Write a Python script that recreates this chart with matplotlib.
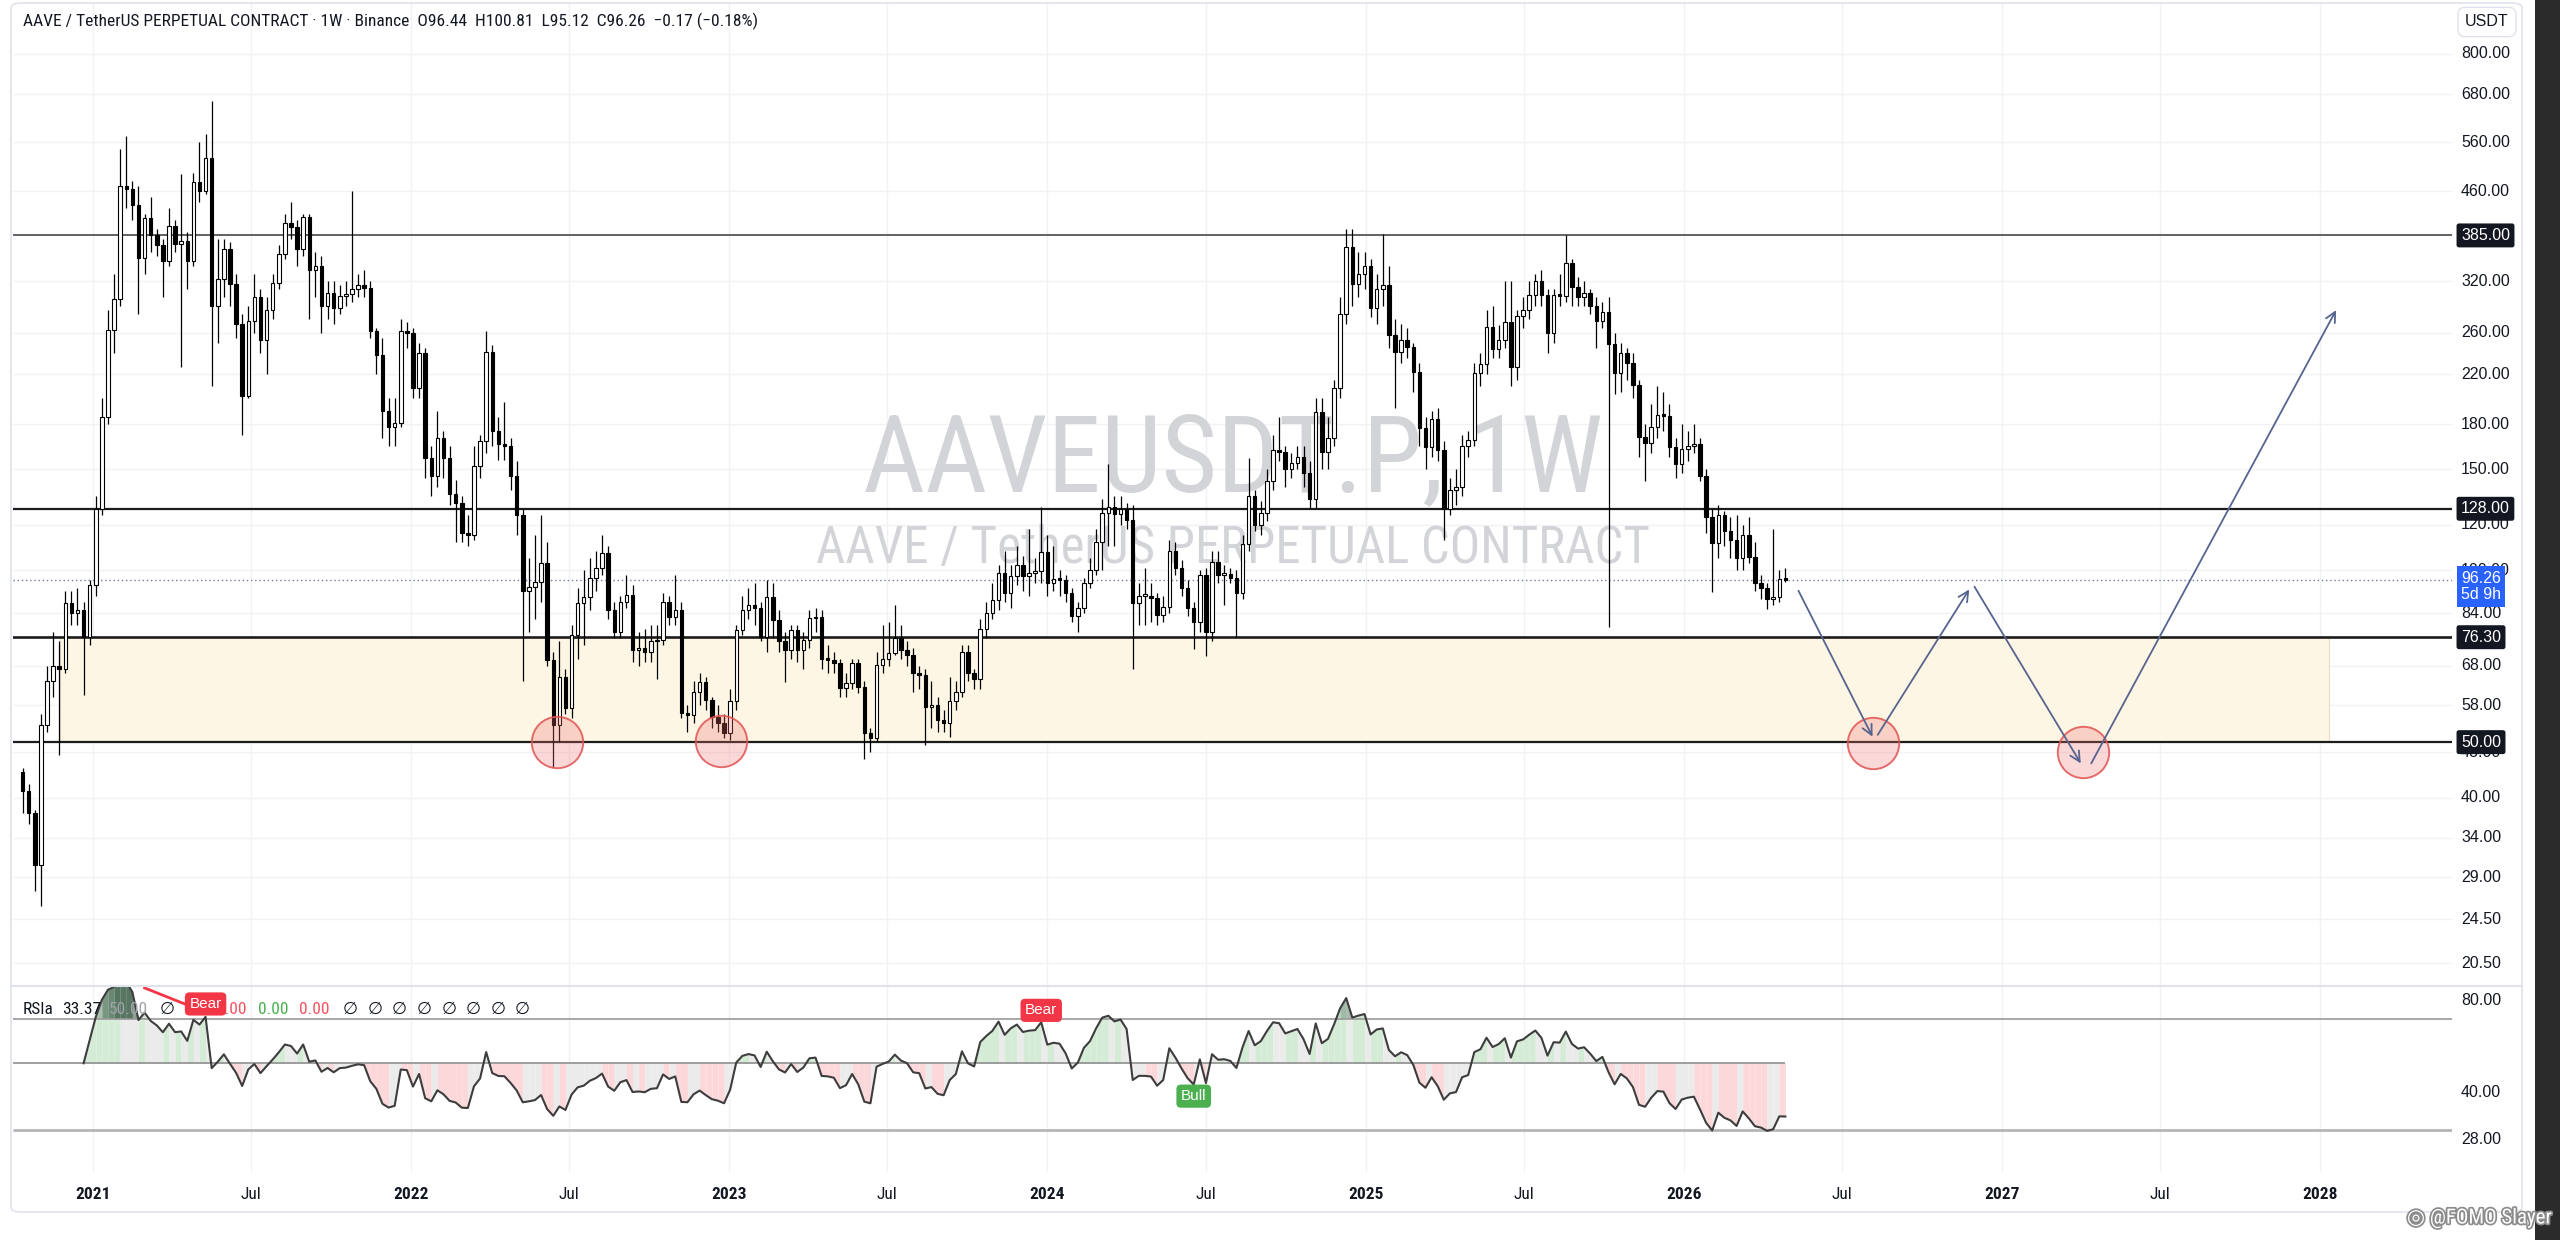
# -*- coding: utf-8 -*-
import numpy as np
import pandas as pd
import matplotlib
matplotlib.use("Agg")
import matplotlib.pyplot as plt
import matplotlib.dates as mdates
import matplotlib.patheffects as pe
from matplotlib import font_manager
from matplotlib.patches import FancyBboxPatch, Rectangle
from matplotlib.lines import Line2D
from matplotlib.transforms import blended_transform_factory, offset_copy

# === DATA (weekly candles) ===
first_week = "2020-10-12"
first_open = 44.4

closes = [
    41, 37.6, 30.5, 53.5, 63.9, 68, 67, 87.4, 84, 85,
    76.4, 94, 128, 185, 263, 298, 469, 465, 436, 352,
    413, 385, 370, 348, 400, 372, 376, 347, 478, 460,
    525, 290, 323, 364, 316, 270, 202, 273, 300, 253,
    285, 318, 357, 405, 398, 364, 415, 335, 341, 290,
    305, 287, 302, 304, 310, 315, 312, 262, 238, 190,
    178, 181, 262, 260, 208, 240, 157, 146, 170, 157,
    136, 131, 116, 115, 152, 168, 241, 175, 166, 165,
    146, 125, 92, 93.5, 95.4, 103, 69.6, 53.6, 65.1, 57.3,
    77, 87.4, 89.8, 96.8, 100.7, 107, 85, 78, 88, 90.5,
    72.5, 73, 72, 75, 75.5, 88, 82.8, 85, 56.2, 55.8,
    61.2, 63.8, 59.3, 55.4, 54, 51.8, 59, 78.6, 85, 86.8,
    85.7, 76.5, 89.8, 81.8, 75, 72.5, 78.6, 72.5, 75.5, 82.3,
    82.8, 69.9, 69.6, 68.7, 62.1, 63.4, 68.7, 62.5, 51.8, 50.8,
    68.2, 70, 71.5, 76, 72.5, 71, 66, 65.5, 57.5, 58,
    54.7, 54, 59, 61.2, 72, 66, 64.5, 79, 84, 88.7,
    98.7, 91, 97.7, 102, 97.7, 99, 99.5, 107.5, 95, 96.5,
    96, 91, 83, 86, 95, 100, 112, 126, 129, 125.5,
    128, 122.4, 87.4, 90, 90, 89.5, 83.5, 86.3, 108, 101,
    93, 85.7, 81, 98, 78, 103.5, 98, 98.5, 97, 91,
    111, 135, 120, 126, 143, 162, 161, 150, 154, 158,
    148, 133, 189, 161, 170, 208, 281, 368, 317, 330,
    340, 287, 310, 315, 258, 241, 253, 246, 222, 177,
    164, 184, 162, 128, 138, 140, 165, 169, 221, 229,
    266, 244, 253, 272, 227, 278, 285, 303, 320, 303,
    260, 303, 302, 345, 313, 301, 305, 290, 273, 283,
    249, 221, 240, 230, 211, 171, 166.6, 178, 187, 186,
    164, 153, 163, 165, 166, 145.8, 124, 111.4, 125, 117,
    113, 105, 115, 105.5, 94.8, 93, 89, 89.8, 96.44, 96.26,
]

highs = [
    45, 42.2, 38, 56, 68, 78, 75, 92, 92, 93,
    88, 96, 135, 200, 285, 330, 545, 575, 480, 470,
    420, 450, 395, 380, 430, 410, 493, 390, 495, 560,
    580, 661, 380, 380, 375, 330, 280, 290, 330, 310,
    300, 330, 370, 420, 440, 410, 420, 420, 360, 355,
    320, 320, 315, 320, 460, 330, 335, 320, 265, 255,
    200, 200, 275, 272, 265, 250, 245, 165, 190, 175,
    165, 144, 135, 125, 165, 172, 262, 248, 185, 197,
    170, 155, 128, 105, 115, 125, 112, 72, 75, 67,
    80, 93, 100, 105, 108, 115, 110, 88, 90, 98,
    94, 78, 79, 80, 80, 91, 90, 98, 88, 58,
    64, 66, 65, 60, 58, 56, 62, 80, 90, 93,
    95, 88, 96, 95, 85, 78, 80, 80, 78, 85,
    86, 85, 74, 72, 70, 66, 70, 70, 64, 53,
    72, 80, 81, 87, 80, 75, 73, 68, 67, 64,
    60, 57, 65, 64, 74, 74, 67, 82, 88, 95,
    102, 108, 102, 110, 106, 118, 105, 129, 115, 110,
    100, 98, 93, 88, 97, 105, 118, 133, 153, 135,
    135, 131, 130, 95, 101, 95, 91, 90, 113, 112,
    104, 96, 88, 100, 101, 108, 108, 102, 101, 100,
    115, 157, 138, 132, 150, 172, 185, 165, 160, 165,
    165, 155, 200, 200, 185, 215, 300, 395, 395, 360,
    360, 350, 330, 387, 340, 275, 270, 265, 250, 230,
    185, 190, 192, 168, 145, 150, 172, 175, 230, 240,
    285, 290, 268, 320, 320, 285, 300, 320, 330, 335,
    310, 310, 330, 386, 350, 325, 320, 310, 300, 295,
    300, 260, 250, 245, 240, 215, 180, 195, 210, 205,
    195, 170, 180, 175, 180, 170, 150, 128, 130, 127,
    124, 125, 120, 124, 112, 98, 95, 118, 100, 100.81,
]

lows = [
    37.6, 36, 27.5, 25.8, 52, 60, 47.4, 66, 80, 80,
    60.5, 74, 90, 125, 180, 240, 290, 430, 410, 280,
    330, 360, 355, 300, 340, 360, 227, 310, 340, 440,
    455, 210, 250, 300, 290, 255, 172, 200, 260, 240,
    220, 275, 310, 350, 380, 340, 355, 275, 300, 260,
    275, 270, 280, 290, 295, 300, 300, 255, 220, 170,
    165, 165, 178, 245, 200, 200, 145, 135, 140, 145,
    130, 112, 112, 110, 113, 145, 160, 165, 156, 156,
    138, 115, 64, 78, 82, 88, 68, 45.3, 50, 56,
    55, 70, 74, 85, 92, 98, 82, 76, 76, 86,
    69, 68, 69, 69, 64.5, 74, 80, 80, 55, 52,
    54, 58, 57, 53, 52, 50.8, 50.5, 57, 77, 82,
    80, 75, 72, 76, 72, 63.8, 70, 69, 67, 73,
    78, 67, 66, 66, 60, 60, 62, 61, 46.8, 48,
    50, 66, 68, 71, 70, 68, 61.2, 62, 49.4, 53,
    52, 52, 51, 57, 60, 64, 62, 62, 76, 82,
    85, 88, 86, 94, 92, 90, 95, 95, 90, 92,
    90, 88, 81, 78, 84, 93, 98, 100, 110, 110,
    120, 118, 67, 80, 80, 81, 80, 81, 84, 98,
    90, 83, 72.7, 78, 70.7, 75, 95, 87, 95, 76.3,
    89, 108, 117, 115, 122, 138, 155, 140, 145, 150,
    140, 128, 128, 150, 150, 165, 200, 270, 290, 300,
    310, 277, 270, 290, 245, 192, 230, 235, 205, 165,
    150, 158, 155, 113, 125, 130, 135, 158, 165, 210,
    220, 235, 235, 245, 210, 215, 265, 275, 290, 290,
    240, 250, 290, 295, 290, 290, 290, 280, 245, 265,
    79.6, 203, 205, 215, 200, 158, 143, 160, 170, 175,
    158, 145, 148, 155, 160, 143, 116, 91.7, 105, 110,
    105, 100, 100, 103, 92, 89, 85.5, 87, 88, 95.12,
]

# horizontal levels and the demand zone
level_prices = [385.0, 128.0, 76.30, 50.0]
zone_dates = ["2020-11-24", "2028-01-11"]
zone_prices = [50.0, 76.30]
last_price = 96.26
countdown = "5d 9h"

# drawn circles and projected path (pairs of start/end points)
circle_dates = ["2022-06-17", "2022-12-23", "2026-08-06", "2027-04-03"]
circle_prices = [50.0, 50.3, 49.9, 48.1]
path_dates = ["2026-05-12", "2026-08-05", "2026-08-11", "2026-11-24",
              "2026-11-30", "2027-04-01", "2027-04-13", "2028-01-19"]
path_prices = [92.0, 51.1, 51.5, 92.5, 93.5, 45.9, 45.9, 284.9]

# axis labels
price_ticks = [800, 680, 560, 460, 320, 260, 220, 180, 150, 120, 100,
               84, 68, 58, 48, 40, 34, 29, 24.5, 20.5]
rsi_ticks = [80, 40, 28]
rsi_levels = [70, 50, 30]
tick_dates = ["2021-01-01", "2021-07-01", "2022-01-01", "2022-07-01", "2023-01-01",
              "2023-07-01", "2024-01-01", "2024-07-01", "2025-01-01", "2025-07-01",
              "2026-01-01", "2026-07-01", "2027-01-01", "2027-07-01", "2028-01-01"]
tick_labels = ["2021", "Jul", "2022", "Jul", "2023", "Jul", "2024", "Jul",
               "2025", "Jul", "2026", "Jul", "2027", "Jul", "2028"]

# RSI divergence labels
div_text = ["Bear", "Bear", "Bull"]
div_weeks = [30, 167, 192]
div_values = [78.2, 74.5, 38.9]
div_line_weeks = [20, 28]
div_line_values = [88.3, 76.2]

header_main = "AAVE / TetherUS PERPETUAL CONTRACT · 1W · Binance  O96.44  H100.81  L95.12  C96.26  −0.17 (−0.18%)"
rsi_header = [("RSIa", "#131722"), ("33.37", "#131722"), ("50.00", "#a0a3ab"), ("∅", "#131722"),
              ("0.00", "#f7525f"), ("0.00", "#4caf50"), ("0.00", "#f7525f")] + [("∅", "#131722")] * 8
rsi_header_x = [23, 62, 109, 160, 216, 258, 299] + [343 + 24.6 * k for k in range(8)]

# === FONTS ===
available = {f.name for f in font_manager.fontManager.ttflist}
narrow = next((n for n in ["Liberation Sans Narrow", "Roboto Condensed", "Open Sans Condensed"]
               if n in available), "Roboto")
regular = "Liberation Sans" if "Liberation Sans" in available else "DejaVu Sans"

# === FIGURE LAYOUT (pixels) ===
W, H = 2560, 1240
fig = plt.figure(figsize=(W / 100, H / 100), dpi=100)
fig.patch.set_facecolor("white")


def fx(px):
    return px / W


def fy(py):
    return 1 - py / H


pane_l, pane_r = 13, 2452
price_t, price_b = 4, 986
rsi_t, rsi_b = 986, 1172

ax = fig.add_axes([fx(pane_l), fy(price_b), (pane_r - pane_l) / W, (price_b - price_t) / H])
ax2 = fig.add_axes([fx(pane_l), fy(rsi_b), (pane_r - pane_l) / W, (rsi_b - rsi_t) / H], sharex=ax)

dates = pd.date_range(first_week, periods=len(closes), freq="7D")
xd = mdates.date2num(dates)
x_left = mdates.date2num(pd.Timestamp("2020-10-01"))
x_right = mdates.date2num(pd.Timestamp("2028-05-31"))

for a in (ax, ax2):
    a.set_yscale("log")
    a.set_xlim(x_left, x_right)
    for s in a.spines.values():
        s.set_visible(False)
    a.tick_params(axis="y", which="both", left=False, right=False, labelleft=False)
    a.yaxis.set_minor_locator(matplotlib.ticker.NullLocator())
    a.set_facecolor("none")
ax.set_ylim(18.72, 978)
ax2.set_ylim(21.9, 89.6)

tick_nums = mdates.date2num(pd.to_datetime(tick_dates))
ax.tick_params(axis="x", length=0, labelbottom=False)
ax2.set_xticks(tick_nums)
ax2.set_xticklabels(tick_labels)
ax2.tick_params(axis="x", length=0, pad=11, labelsize=12.5, labelcolor="#131722")
for lab, txt in zip(ax2.get_xticklabels(), tick_labels):
    lab.set_family(narrow)
    if txt != "Jul":
        lab.set_fontweight("bold")

# --- grid ---
grid_col = "#f0f2f6"
for t in tick_nums:
    ax.axvline(t, color=grid_col, lw=1, zorder=0.2)
    ax2.axvline(t, color=grid_col, lw=1, zorder=0.2)
for p in price_ticks:
    ax.axhline(p, color=grid_col, lw=1, zorder=0.2)

# --- watermark ---
wm1 = ax.text(0.5002, 0.5336, "AAVEUSDT.P, 1W", transform=ax.transAxes, ha="center", va="center",
              fontsize=70, family=narrow, color="#d3d4d8", zorder=0.5)
wm2 = ax.text(0.5002, 0.445, "AAVE / TetherUS PERPETUAL CONTRACT", transform=ax.transAxes,
              ha="center", va="center", fontsize=36, family=narrow, color="#d3d4d8", zorder=0.5)

# --- zone and levels ---
zx = mdates.date2num(pd.to_datetime(zone_dates))
ax.add_patch(Rectangle((zx[0], zone_prices[0]), zx[1] - zx[0], zone_prices[1] - zone_prices[0],
                       facecolor="#fdf6e4", edgecolor="#e6dcc2", lw=0.8, zorder=1))
level_styles = [("#555555", 1.3), ("#1c1c1c", 1.6), ("#1c1c1c", 1.9), ("#1c1c1c", 1.6)]
for p, (col, lw) in zip(level_prices, level_styles):
    ax.axhline(p, color=col, lw=lw, zorder=2)
ax.axhline(last_price, color="#6f7aa0", lw=1.0, ls=(0, (1, 2)), zorder=2)

# --- candles ---
o = np.array([first_open] + closes[:-1], dtype=float)
c = np.array(closes, dtype=float)
h = np.maximum(np.array(highs, dtype=float), np.maximum(o, c))
l = np.minimum(np.array(lows, dtype=float), np.minimum(o, c))
up = c >= o
body_lo = np.minimum(o, c)
body_hi = np.maximum(np.maximum(o, c), body_lo * 1.007)
ax.vlines(xd, l, h, color="#000000", lw=0.9, zorder=3)
ax.bar(xd, body_hi - body_lo, bottom=body_lo, width=4.0,
       color=["white" if u else "black" for u in up], edgecolor="black", linewidth=0.8, zorder=4)

# --- circles and projected path ---
cx = mdates.date2num(pd.to_datetime(circle_dates))
ax.plot(cx, circle_prices, "o", ms=37, mfc=(0.95, 0.45, 0.45, 0.28), mec=(0.88, 0.33, 0.33, 0.85),
        mew=1.4, ls="none", zorder=5)
px = mdates.date2num(pd.to_datetime(path_dates))
for k in range(0, len(px), 2):
    ax.annotate("", xy=(px[k + 1], path_prices[k + 1]), xytext=(px[k], path_prices[k]),
                arrowprops=dict(arrowstyle="->", color="#56648f", lw=1.3, mutation_scale=18,
                                shrinkA=0, shrinkB=0), zorder=5)

# --- price scale labels ---
ytr = blended_transform_factory(ax.transAxes, ax.transData)
lx = 1 + (2461 - pane_r) / (pane_r - pane_l)
for p in price_ticks:
    ax.text(lx, p, f"{p:.2f}", transform=ytr, ha="left", va="center", fontsize=11.5,
            family=regular, color="#131722", clip_on=False, zorder=6)
for p in level_prices:
    ax.text(lx, p, f"{p:.2f}", transform=ytr, ha="left", va="center", fontsize=11.5,
            family=regular, color="white", clip_on=False, zorder=7,
            bbox=dict(boxstyle="round,pad=0.28,rounding_size=0.15", fc="#131722", ec="none"))
ax.text(lx, last_price, f"{last_price:.2f}\n{countdown}",
        transform=offset_copy(ytr, fig=fig, y=9, units="dots"), ha="left", va="top",
        fontsize=11.5, family=regular, color="white", linespacing=1.15, clip_on=False, zorder=7,
        bbox=dict(boxstyle="square,pad=0.28", fc="#2962ff", ec="none"))

# === RSI ===
cs = pd.Series(c)
delta = cs.diff()
gain = delta.clip(lower=0).ewm(alpha=1 / 14, adjust=False).mean()
loss = (-delta.clip(upper=0)).ewm(alpha=1 / 14, adjust=False).mean()
rsi = (100 - 100 / (1 + gain / loss)).values
start = 10

green, red, gray = "#d4ebd6", "#fcd8db", "#ebebeb"
for k in range(start + 1, len(rsi)):
    x0, x1, r0, r1 = xd[k - 1], xd[k], rsi[k - 1], rsi[k]
    rising = r1 >= r0
    if (r0 - 50) * (r1 - 50) < 0:
        xc = x0 + (50 - r0) / (r1 - r0) * (x1 - x0)
        segs = [(x0, r0, xc, 50), (xc, 50, x1, r1)]
    else:
        segs = [(x0, r0, x1, r1)]
    for xa, ya, xb, yb in segs:
        if (ya + yb) / 2 >= 50:
            col = green if rising else gray
        else:
            col = gray if rising else red
        ax2.fill_between([xa, xb], [ya, yb], 50, color=col, lw=0, zorder=1)
    top = max(r0, r1)
    if top > 70:
        alpha = min(0.95, ((top - 70) / 22) ** 1.5)
        ax2.fill_between([x0, x1], [max(r0, 70), max(r1, 70)], 70, color="#4f6f5a",
                         alpha=alpha, lw=0, zorder=1.1)

ax2.hlines(70, x_left, x_right, color="#9a9a9a", lw=1.2, zorder=2)
ax2.hlines(50, x_left, xd[-1], color="#8f8f8f", lw=1.2, zorder=2)
ax2.hlines(30, x_left, x_right, color="#b5b5b5", lw=2.0, zorder=2)
ax2.plot(xd[start:], rsi[start:], color="#3d3d3d", lw=1.5, zorder=3)

ax2.plot([xd[div_line_weeks[0]], xd[div_line_weeks[1]]], div_line_values, color="#f23645",
         lw=2, zorder=4, clip_on=False)
for t, wk, v in zip(div_text, div_weeks, div_values):
    ax2.text(xd[wk], v, t, ha="center", va="center", fontsize=11, family=regular, color="white",
             zorder=8, bbox=dict(boxstyle="round,pad=0.3", fc="#f23645" if t == "Bear" else "#4caf50",
                                 ec="none"))

rtr = blended_transform_factory(ax2.transAxes, ax2.transData)
for p in rsi_ticks:
    ax2.text(lx, p, f"{p:.2f}", transform=rtr, ha="left", va="center", fontsize=11.5,
             family=regular, color="#131722", clip_on=False)

for (t, col), xp in zip(rsi_header, rsi_header_x):
    ax2.text(fx(xp), fy(1009), t, transform=fig.transFigure, ha="left", va="center",
             fontsize=12.5, family=[narrow, "DejaVu Sans"], color=col, zorder=6)

# --- header ---
hdr = ax.text(fx(23), fy(21), header_main, transform=fig.transFigure, ha="left", va="center",
              fontsize=12.5, family=[narrow, "DejaVu Sans"], color="#131722", zorder=8)

renderer = fig.canvas.get_renderer()


def fit_width(t, target_px):
    w = t.get_window_extent(renderer=renderer).width
    t.set_fontsize(t.get_fontsize() * target_px / w)


fit_width(hdr, 735)
fit_width(wm1, 740)
fit_width(wm2, 833)

# --- frame, separators, right dark strip ---
fig.add_artist(FancyBboxPatch((fx(11), fy(1212)), fx(2522) - fx(11), fy(3) - fy(1212),
                              boxstyle="round,pad=0,rounding_size=0.004", transform=fig.transFigure,
                              fc="none", ec="#e0e3eb", lw=1.2))
fig.add_artist(Line2D([fx(11), fx(2522)], [fy(986), fy(986)], color="#e0e3eb", lw=1.5))
fig.add_artist(Rectangle((fx(2535), 0), 1 - fx(2535), 1, transform=fig.transFigure,
                         fc="#2b2b2b", ec="none"))
fig.text(fx(2487), fy(22), "USDT", ha="center", va="center", fontsize=11.5, family=regular,
         color="#131722", bbox=dict(boxstyle="round,pad=0.45", fc="white", ec="#e0e3eb"))
fig.text(fx(2552), fy(1218), "◎ @FOMO Slayer", ha="right", va="center", fontsize=15,
         family=[narrow, "DejaVu Sans"], color="white",
         path_effects=[pe.withStroke(linewidth=2.5, foreground="#8c8c8c")])

fig.savefig("out.png", dpi=100, facecolor="white")
